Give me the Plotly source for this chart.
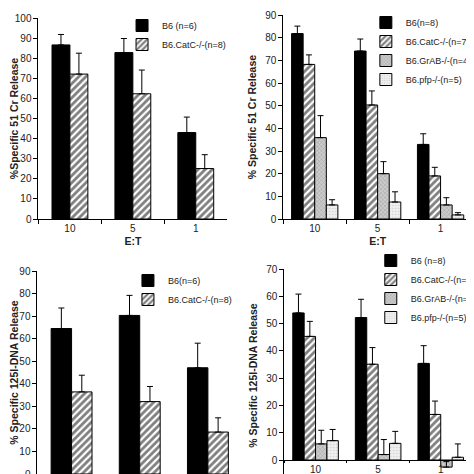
import plotly.graph_objects as go

# ---------------- data ----------------
et = ["10", "5", "1"]

# Panel A (top-left): % specific 51Cr release
a_names = ["B6 (n=6)", "B6.CatC-/-(n=8)"]
a_b6 = [86.6, 82.8, 43.0]
a_b6_err = [5.2, 7.0, 7.7]
a_catc = [72.1, 62.3, 25.1]
a_catc_err = [10.4, 11.8, 6.9]

# Panel B (top-right): % specific 51Cr release
b_names = ["B6(n=8)", "B6.CatC-/-(n=7)", "B6.GrAB-/-(n=4)", "B6.pfp-/-(n=5)"]
b_b6 = [81.8, 74.1, 32.9]
b_b6_err = [3.3, 5.3, 4.7]
b_catc = [68.2, 50.3, 19.0]
b_catc_err = [4.2, 6.2, 3.8]
b_grab = [35.9, 20.0, 6.2]
b_grab_err = [9.7, 5.3, 3.2]
b_pfp = [6.2, 7.5, 1.8]
b_pfp_err = [2.3, 4.5, 1.0]

# Panel C (bottom-left): % specific 125I-DNA release
c_names = ["B6(n=6)", "B6.CatC-/-(n=8)"]
c_b6 = [64.5, 70.3, 47.1]
c_b6_err = [9.1, 8.9, 10.9]
c_catc = [36.4, 32.1, 18.6]
c_catc_err = [7.4, 6.7, 6.3]

# Panel D (bottom-right): % specific 125I-DNA release
d_names = ["B6 (n=8)", "B6.CatC-/-(n=7)", "B6.GrAB-/-(n=4)", "B6.pfp-/-(n=5)"]
d_b6 = [53.9, 52.2, 35.4]
d_b6_err = [6.9, 6.7, 6.5]
d_catc = [45.3, 35.1, 16.7]
d_catc_err = [5.5, 6.1, 4.9]
d_grab = [5.9, 2.0, -2.6]
d_grab_err = [5.0, 5.5, 2.0]
d_pfp = [7.1, 6.1, 1.0]
d_pfp_err = [4.1, 4.4, 4.9]

ytitle_cr_a = "%Specific 51 Cr Release"
ytitle_cr_b = "% Specific 51 Cr Release"
ytitle_dna = "% Specific 125I-DNA Release"
xtitle = "E:T"

# ---------------- styles ----------------
FONT = "Liberation Sans, Arial, sans-serif"
S = 474.0

styles = {
    "b6": dict(color="#000000", line=dict(color="#000000", width=1)),
    "catc": dict(color="#ffffff", line=dict(color="#000000", width=1),
                 pattern=dict(shape="/", fgcolor="#000000", bgcolor="#ffffff",
                              size=5, solidity=0.55)),
    "grab": dict(color="#c4c4c4", line=dict(color="#000000", width=1),
                 pattern=dict(shape="x", fgcolor="#707070", bgcolor="#cccccc",
                              size=3, solidity=0.3)),
    "pfp": dict(color="#eeeeee", line=dict(color="#000000", width=1),
                pattern=dict(shape=".", fgcolor="#b0b0b0", bgcolor="#efefef",
                             size=3, solidity=0.2)),
}

fig = go.Figure()


def add_bar(vals, errs, name, style, xa, ya, legend, width, offset):
    fig.add_trace(go.Bar(
        x=et, y=vals, name=name, marker=styles[style],
        width=width, offset=offset,
        error_y=dict(type="data", symmetric=False, array=errs,
                     arrayminus=[0] * len(errs), color="#000000",
                     thickness=1, width=3),
        xaxis=xa, yaxis=ya, legend=legend,
    ))


wa = 0.285
add_bar(a_b6, a_b6_err, a_names[0], "b6", "x", "y", "legend", wa, -wa)
add_bar(a_catc, a_catc_err, a_names[1], "catc", "x", "y", "legend", wa, 0)

wb = 0.184
add_bar(b_b6, b_b6_err, b_names[0], "b6", "x2", "y2", "legend2", wb, -2 * wb)
add_bar(b_catc, b_catc_err, b_names[1], "catc", "x2", "y2", "legend2", wb, -wb)
add_bar(b_grab, b_grab_err, b_names[2], "grab", "x2", "y2", "legend2", wb, 0)
add_bar(b_pfp, b_pfp_err, b_names[3], "pfp", "x2", "y2", "legend2", wb, wb)

wc = 0.30
add_bar(c_b6, c_b6_err, c_names[0], "b6", "x3", "y3", "legend3", wc, -wc)
add_bar(c_catc, c_catc_err, c_names[1], "catc", "x3", "y3", "legend3", wc, 0)

wd = 0.182
add_bar(d_b6, d_b6_err, d_names[0], "b6", "x4", "y4", "legend4", wd, -2 * wd)
add_bar(d_catc, d_catc_err, d_names[1], "catc", "x4", "y4", "legend4", wd, -wd)
add_bar(d_grab, d_grab_err, d_names[2], "grab", "x4", "y4", "legend4", wd, 0)
add_bar(d_pfp, d_pfp_err, d_names[3], "pfp", "x4", "y4", "legend4", wd, wd)

tickfont = dict(family=FONT, size=10, color="#222222")
titlefont = dict(family=FONT, size=10.5, color="#222222", weight="bold")


def xax(domain, anchor, title=None, position=None, ticklen=4, labels=True):
    d = dict(domain=domain, type="category", showline=True, linecolor="#000000",
             linewidth=1, ticks="outside", ticklen=ticklen, tickcolor="#000000",
             tickson="boundaries", tickfont=tickfont, showgrid=False,
             showticklabels=labels,
             zeroline=False, automargin=False, fixedrange=True)
    if position is not None:
        d.update(anchor="free", position=position)
    else:
        d.update(anchor=anchor)
    if title:
        d["title"] = dict(text=title, font=titlefont, standoff=4)
    return d


def yax(domain, anchor, rng, title, standoff):
    return dict(domain=domain, anchor=anchor, range=rng, dtick=10, tick0=0,
                showline=True, linecolor="#000000", linewidth=1,
                ticks="outside", ticklen=4, tickcolor="#000000",
                tickfont=tickfont, showgrid=False, zeroline=False,
                automargin=False, fixedrange=True,
                title=dict(text=title, font=titlefont, standoff=standoff))


legfont = dict(family=FONT, size=9, color="#222222")


def leg(xpx, ypx):
    return dict(x=xpx / S, y=1 - ypx / S, xanchor="left", yanchor="top",
                bgcolor="rgba(0,0,0,0)", font=legfont, itemwidth=30,
                tracegroupgap=0)


fig.update_layout(
    width=474, height=474,
    margin=dict(l=0, r=0, t=0, b=0),
    paper_bgcolor="#ffffff", plot_bgcolor="#ffffff",
    barmode="overlay",
    font=dict(family=FONT),
    xaxis=xax([31 / S, 223 / S], "y", title=xtitle),
    yaxis=yax([1 - 211 / S, 1 - 10 / S], "x", [0, 100], ytitle_cr_a, 5),
    xaxis2=xax([280 / S, 472 / S], "y2", title=xtitle),
    yaxis2=yax([1 - 211 / S, 1 - 7 / S], "x2", [0, 90], ytitle_cr_b, 6),
    xaxis3=xax([30 / S, 238 / S], "y3", labels=False),
    yaxis3=yax([8 / S, 211 / S], "x3", [0, 90], ytitle_dna, 5),
    xaxis4=xax([281 / S, 472 / S], "y4", position=22 / S, ticklen=2),
    yaxis4=yax([0, 213 / S], "x4", [-8.06, 70], ytitle_dna, 6),
    legend=leg(116, 3),
    legend2=leg(364, 0),
    legend3=leg(122, 258),
    legend4=leg(369, 238),
)

fig.write_html("out.html")
